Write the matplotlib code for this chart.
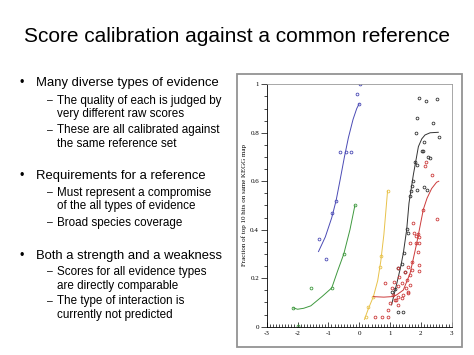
import matplotlib
matplotlib.use("Agg")
import matplotlib.pyplot as plt
from matplotlib.patches import Rectangle
from matplotlib.ticker import MultipleLocator

# slide text
title = "Score calibration against a common reference"
bullets = [
    ("Many diverse types of evidence", 83),
    ("Requirements for a reference", 176),
    ("Both a strength and a weakness", 256),
]
sub_bullets = [
    (["The quality of each is judged by", "very different raw scores"], 100.5),
    (["These are all calibrated against", "the same reference set"], 130),
    (["Must represent a compromise", "of the all types of evidence"], 192.5),
    (["Broad species coverage"], 222.5),
    (["Scores for all evidence types", "are directly comparable"], 271.5),
    (["The type of interaction is", "currently not predicted"], 301),
]

# calibration curves (score vs fraction of top 10 hits on same KEGG map)
blue_x = [-1.32, -1.08, -0.87, -0.75, -0.61, -0.44, -0.26, -0.08, 0.0, 0.03]
blue_y = [0.36, 0.28, 0.47, 0.52, 0.72, 0.72, 0.72, 0.96, 0.92, 1.0]
blue_fit_x = [-1.32, -1.1, -0.89, -0.75, -0.62, -0.48, -0.35, -0.2, -0.08, 0.0]
blue_fit_y = [0.31, 0.37, 0.45, 0.52, 0.605, 0.70, 0.78, 0.855, 0.9, 0.92]

green_x = [-2.14, -1.98, -1.57, -0.89, -0.5, -0.14]
green_y = [0.078, 0.003, 0.16, 0.16, 0.30, 0.50]
green_fit_x = [-2.14, -2.0, -1.8, -1.57, -1.2, -0.89, -0.7, -0.5, -0.3, -0.14]
green_fit_y = [0.078, 0.072, 0.076, 0.086, 0.125, 0.16, 0.23, 0.30, 0.40, 0.50]

yellow_x = [0.21, 0.30, 0.46, 0.68, 0.70, 0.92]
yellow_y = [0.04, 0.08, 0.124, 0.245, 0.29, 0.56]
yellow_fit_x = [0.17, 0.3, 0.46, 0.6, 0.7, 0.8, 0.92]
yellow_fit_y = [0.03, 0.075, 0.124, 0.19, 0.27, 0.38, 0.56]

black_x = [1.95, 2.16, 2.53, 1.865, 2.40, 1.83, 2.60, 2.11, 2.03, 2.07, 2.22, 2.31,
           1.81, 1.875, 1.755, 1.72, 1.68, 1.875, 2.11, 2.20, 1.66, 1.54, 1.59,
           1.46, 1.38, 1.25, 1.16, 1.05, 1.27, 1.43, 1.49]
black_y = [0.942, 0.931, 0.939, 0.86, 0.842, 0.80, 0.783, 0.763, 0.725, 0.725, 0.70, 0.695,
           0.678, 0.667, 0.601, 0.582, 0.56, 0.564, 0.578, 0.564, 0.54, 0.402, 0.385,
           0.303, 0.259, 0.241, 0.154, 0.145, 0.062, 0.062, 0.225]
black_fit_x = [1.05, 1.22, 1.35, 1.43, 1.54, 1.615, 1.755, 1.92, 2.03, 2.135, 2.3, 2.565]
black_fit_y = [0.09, 0.179, 0.25, 0.303, 0.40, 0.51, 0.626, 0.743, 0.775, 0.791, 0.80, 0.802]

red_x = [2.16, 2.13, 2.35, 2.51, 2.06, 1.755, 1.79, 1.83, 1.90, 1.94, 1.65, 1.83, 1.95,
         1.92, 1.70, 1.94, 1.94, 1.59, 1.70, 1.485, 1.27, 1.65, 1.54, 1.38, 1.65, 1.27,
         1.51, 1.59, 1.43, 1.27, 1.19, 1.38, 1.57, 0.84, 0.945, 0.51, 0.73, 0.945,
         1.05, 1.09, 1.16, 1.0, 1.27, 1.14, 1.30]
red_y = [0.678, 0.664, 0.626, 0.443, 0.48, 0.427, 0.385, 0.374, 0.381, 0.369, 0.344, 0.347, 0.344,
         0.309, 0.268, 0.255, 0.231, 0.248, 0.234, 0.227, 0.241, 0.213, 0.193, 0.179, 0.172, 0.168,
         0.158, 0.144, 0.131, 0.121, 0.110, 0.117, 0.138, 0.179, 0.069, 0.041, 0.041, 0.041,
         0.158, 0.131, 0.11, 0.096, 0.09, 0.186, 0.206]
red_fit_x = [0.46, 0.8, 1.05, 1.2, 1.43, 1.65, 1.865, 2.08, 2.2, 2.35, 2.51, 2.58]
red_fit_y = [0.124, 0.122, 0.124, 0.13, 0.151, 0.22, 0.344, 0.484, 0.53, 0.57, 0.596, 0.60]

W, H = 474, 355
fig = plt.figure(figsize=(W / 100, H / 100), dpi=100)
sans = "Liberation Sans"

def fy(py):
    return 1 - py / H

fig.text(237 / W, fy(36.5), title, ha="center", va="center", fontsize=15, family=sans)

for text, py in bullets:
    fig.text(22 / W, fy(py), "\u2022", ha="center", va="center", fontsize=9, family=sans)
    fig.text(36 / W, fy(py), text, ha="left", va="center", fontsize=9.4, family=sans)

line_step = 14
for lines, py in sub_bullets:
    fig.text(47 / W, fy(py), "\u2013", ha="left", va="center", fontsize=7.5, family=sans)
    for i, t in enumerate(lines):
        fig.text(56.7 / W, fy(py + i * line_step), t, ha="left", va="center",
                 fontsize=8.35, family=sans)

# grey frame round the pasted figure
fig.patches.append(Rectangle((237 / W, fy(347)), (462 - 237) / W, (347 - 74) / H,
                             transform=fig.transFigure, fill=False,
                             edgecolor="#939393", linewidth=1.3))

ax = fig.add_axes([266.7 / W, fy(326.7), 185 / W, 242.4 / H])

mk = dict(marker="o", linestyle="none", markersize=2.0, markerfacecolor="none",
          markeredgewidth=0.6)
series = [
    (blue_x, blue_y, blue_fit_x, blue_fit_y, "#4b4bb5"),
    (green_x, green_y, green_fit_x, green_fit_y, "#3f993f"),
    (yellow_x, yellow_y, yellow_fit_x, yellow_fit_y, "#e8c24a"),
    (black_x, black_y, black_fit_x, black_fit_y, "#333333"),
    (red_x, red_y, red_fit_x, red_fit_y, "#cc3b3b"),
]
for px, py, lx, ly, c in series:
    ax.plot(lx, ly, color=c, linewidth=0.7)
    ax.plot(px, py, color=c, **mk)

ax.set_xlim(-3, 3)
ax.set_ylim(0, 1)
ax.set_xticks(range(-3, 4))
ax.set_xticklabels([str(v) for v in range(-3, 4)])
ax.set_yticks([0, 0.2, 0.4, 0.6, 0.8, 1])
ax.set_yticklabels(["0", "0.2", "0.4", "0.6", "0.8", "1"])
ax.xaxis.set_minor_locator(MultipleLocator(0.1))
ax.yaxis.set_minor_locator(MultipleLocator(0.05))
ax.tick_params(axis="x", which="both", direction="in", length=2.5, width=0.5,
               labelsize=5, pad=3, top=False)
ax.tick_params(axis="x", which="major", length=3.5)
ax.tick_params(axis="y", which="both", direction="out", length=2.5, width=0.5,
               labelsize=5, pad=1.5, right=False)
ax.tick_params(axis="y", which="major", length=4)
for lab in ax.get_xticklabels() + ax.get_yticklabels():
    lab.set_family("Liberation Serif")
for s in ["left", "bottom"]:
    ax.spines[s].set_linewidth(0.6)
for s in ["top", "right"]:
    ax.spines[s].set_color("#999999")
    ax.spines[s].set_linewidth(0.6)
ax.set_ylabel("Fraction of top 10 hits on same KEGG map", fontsize=5,
              family="Liberation Serif", labelpad=2)

fig.savefig("out.png", dpi=100)
